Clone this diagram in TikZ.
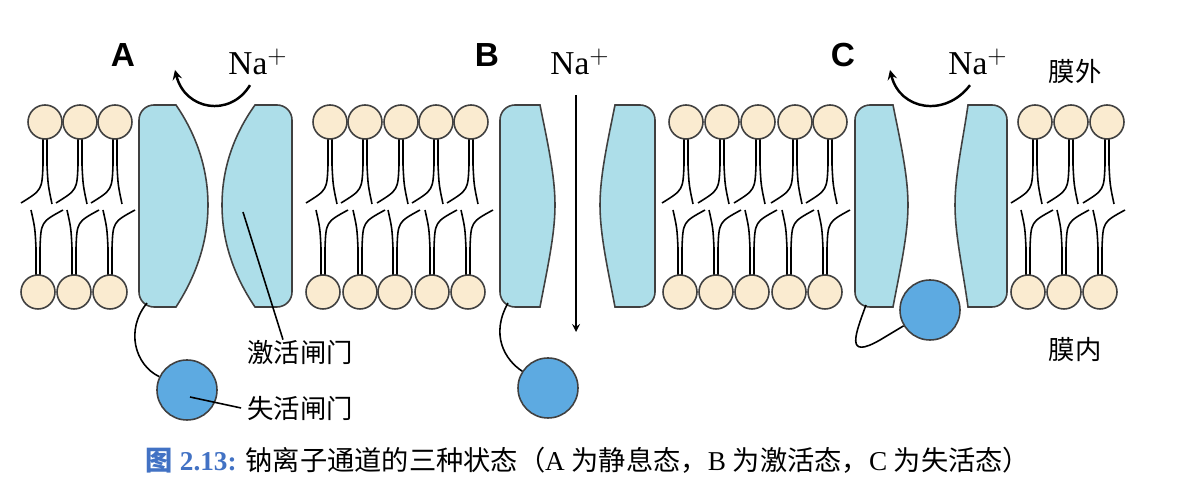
\documentclass[tikz,border=0pt]{standalone}
\usepackage{fontspec}
\setmainfont{Liberation Serif}
\newfontfamily\cjk{Noto Sans CJK SC}
\newfontfamily\lab{Liberation Sans}
\definecolor{headc}{RGB}{250,235,208}
\definecolor{protc}{RGB}{173,222,233}
\definecolor{ballc}{RGB}{93,170,225}
\definecolor{capc}{RGB}{66,114,196}
\tikzset{
  head/.style={circle, draw=black!75, fill=headc, line width=0.9pt, minimum size=34*0.02cm, inner sep=0pt},
  tail/.style={line width=0.9pt},
  prot/.style={draw=black!75, fill=protc, line width=0.9pt},
  ball/.style={circle, draw=black!75, fill=ballc, line width=0.9pt, minimum size=60*0.02cm, inner sep=0pt},
  zh/.style={font=\cjk\fontsize{15}{17}\selectfont},
  na/.style={font=\fontsize{19}{21}\selectfont},
  panel/.style={font=\lab\bfseries\fontsize{19}{21}\selectfont}
}
% upper lipid: head at (#1,122)
\newcommand\uplipid[1]{%
  \draw[tail] (#1-2,139) -- (#1-2,165) .. controls (#1-3,190) .. (#1-24,203);
  \draw[tail] (#1+2,139) -- (#1+2,165) .. controls (#1+3,185) .. (#1+7,204);
  \node[head] at (#1,122) {};}
% lower lipid: head at (#1,292)
\newcommand\lowlipid[1]{%
  \draw[tail] (#1-2,275) -- (#1-2,248) .. controls (#1-3,228) .. (#1-7,210);
  \draw[tail] (#1+2,275) -- (#1+2,248) .. controls (#1+3,222) .. (#1+25,210);
  \node[head] at (#1,292) {};}
% protein halves: left edge/ corner x/ bulge x
\newcommand\lprot[3]{%
  \draw[prot] (#2,105) -- (#1+15,105) arc(270:180:15) -- (#1,292) arc(180:90:15) -- (#2,307)
    .. controls (#3-8,270) and (#3,235) .. (#3,205) .. controls (#3,175) and (#3-8,140) .. cycle;}
\newcommand\rprot[3]{%
  \draw[prot] (#2,105) -- (#1-15,105) arc(270:360:15) -- (#1,292) arc(0:90:15) -- (#2,307)
    .. controls (#3+8,270) and (#3,235) .. (#3,205) .. controls (#3,175) and (#3+8,140) .. cycle;}
\begin{document}
\begin{tikzpicture}[x=0.02cm,y=-0.02cm]
  \useasboundingbox (0,0) rectangle (1177,502);
  %% lipids
  \foreach \x in {45,80,115,330,365,401,436,471,686,722,758,795,830,1035,1071,1107} {\uplipid{\x}}
  \foreach \x in {38,74,110,323,360,395,432,468,680,716,752,789,825,1028,1064,1100} {\lowlipid{\x}}
  %% channels
  \lprot{139}{176}{208} \rprot{292}{255}{222}
  \lprot{500}{540}{555} \rprot{655}{615}{600}
  \lprot{855}{893}{908} \rprot{1007}{968}{955}
  %% panel labels and ions
  \node[panel] (pA) at (123,55) {A};
  \node[panel] (pB) at (487,55) {B};
  \node[panel] (pC) at (843,55) {C};
  \node[na] (naA) at (258,62) {Na$^+$};
  \node[na] (naB) at (580,62) {Na$^+$};
  \node[na] (naC) at (978,62) {Na$^+$};
  \coordinate (aA) at (175,70);
  \coordinate (aC) at (890,70);
  \coordinate (bB) at (576,95);
  \coordinate (eB) at (576,332);
  \draw[->, line width=1.4pt, >=stealth] (naA.south) ++(-8,4) .. controls (230,118) and (185,110) .. (aA);
  \draw[->, line width=1.4pt, >=stealth] (naC.south) ++(-8,4) .. controls (945,118) and (900,110) .. (aC);
  \draw[->, line width=1pt, >=stealth] (bB) -- (eB);
  %% inactivation gates
  \node[ball] (gA) at (187,390) {};
  \node[ball] (gB) at (548,388) {};
  \node[ball] (gC) at (930,310) {};
  \coordinate (sA) at (147,303);
  \coordinate (sB) at (508,303);
  \coordinate (sC) at (866,305);
  \draw[tail] (sA) .. controls (125,330) and (135,365) .. (gA);
  \draw[tail] (sB) .. controls (490,335) and (505,360) .. (gB);
  \draw[tail] (sC) .. controls (855,335) and (845,360) .. (880,340) -- (gC);
  %% labels
  \node[zh] (act) at (300,352) {激活闸门};
  \node[zh] (ina) at (300,408) {失活闸门};
  \coordinate (pa) at (243,212);
  \coordinate (pi) at (190,397);
  \draw[tail] (pa) -- ([xshift=-17*0.02cm, yshift=-6*0.02cm]act.north);
  \draw[tail] (pi) -- (ina.west);
  \node[zh] (out) at (1075,72) {膜外};
  \node[zh] (in) at (1075,350) {膜内};
  \node (cap) at (588,460) {\fontsize{15.5}{18}\selectfont\textcolor{capc}{\textbf{{\cjk 图} 2.13:}} {\cjk 钠离子通道的三种状态（}A {\cjk 为静息态，}B {\cjk 为激活态，}C {\cjk 为失活态）}};
\end{tikzpicture}
\end{document}
